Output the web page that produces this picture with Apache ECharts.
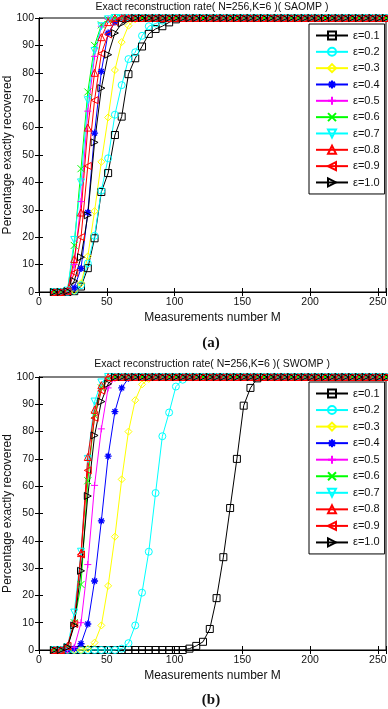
<!DOCTYPE html>
<html>
<head>
<meta charset="utf-8">
<script src="https://cdn.jsdelivr.net/npm/echarts@6/dist/echarts.min.js"></script>
<style>
html,body{margin:0;padding:0;background:#fff;}
#c{width:388px;height:709px;}
</style>
</head>
<body>
<div id="c"></div>
<script>
// ---- data ----
const M = [11,16,21,26,31,36,41,46,51,56,61,66,71,76,81,86,91,96,101,106,111,116,121,126,131,136,141,146,151,156,161,166,171,176,181,186,191,196,201,206,211,216,221,226,231,236,241,246,251,256];
const names = ['ε=0.1','ε=0.2','ε=0.3','ε=0.4','ε=0.5','ε=0.6','ε=0.7','ε=0.8','ε=0.9','ε=1.0'];
const xTicks = [0,50,100,150,200,250];
const yTicks = [0,10,20,30,40,50,60,70,80,90,100];
const titleA = 'Exact reconstruction rate( N=256,K=6 )( SAOMP )';
const titleB = 'Exact reconstruction rate( N=256,K=6 )( SWOMP )';
const xName = 'Measurements number M';
const yName = 'Percentage exactly recovered';

// (a) SAOMP
const a01 = [0,0,0,0.3,2,8.7,19.6,36.5,43.4,57.3,64,79.5,85.3,89.6,94.2,96,97,98.4,99.5,100,100,100,100,100,100,100,100,100,100,100,100,100,100,100,100,100,100,100,100,100,100,100,100,100,100,100,100,100,100,100];
const a02 = [0,0,0,0.5,2.5,10.5,20.5,37,48.8,64.7,75.5,85,87.5,93.5,97,98,99,100,100,100,100,100,100,100,100,100,100,100,100,100,100,100,100,100,100,100,100,100,100,100,100,100,100,100,100,100,100,100,100,100];
const a03 = [0,0,0,0.5,3.2,13,29.5,47.5,63.7,81,91.2,97.2,99.5,100,100,100,100,100,100,100,100,100,100,100,100,100,100,100,100,100,100,100,100,100,100,100,100,100,100,100,100,100,100,100,100,100,100,100,100,100];
const a04 = [0,0,0,1.5,8.6,29,58,80.5,94.5,98.5,100,100,100,100,100,100,100,100,100,100,100,100,100,100,100,100,100,100,100,100,100,100,100,100,100,100,100,100,100,100,100,100,100,100,100,100,100,100,100,100];
const a05 = [0,0,0.3,10,33,66,86,97,99.5,100,100,100,100,100,100,100,100,100,100,100,100,100,100,100,100,100,100,100,100,100,100,100,100,100,100,100,100,100,100,100,100,100,100,100,100,100,100,100,100,100];
const a06 = [0,0,0.5,17,45,73,90,97.5,99.5,100,100,100,100,100,100,100,100,100,100,100,100,100,100,100,100,100,100,100,100,100,100,100,100,100,100,100,100,100,100,100,100,100,100,100,100,100,100,100,100,100];
const a07 = [0,0,0.5,19,40,70,88,97,99.5,100,100,100,100,100,100,100,100,100,100,100,100,100,100,100,100,100,100,100,100,100,100,100,100,100,100,100,100,100,100,100,100,100,100,100,100,100,100,100,100,100];
const a08 = [0,0,0.5,12,29,60,80,93,98.5,100,100,100,100,100,100,100,100,100,100,100,100,100,100,100,100,100,100,100,100,100,100,100,100,100,100,100,100,100,100,100,100,100,100,100,100,100,100,100,100,100];
const a09 = [0,0,0.3,7,20,46,70,87,94,98.5,100,100,100,100,100,100,100,100,100,100,100,100,100,100,100,100,100,100,100,100,100,100,100,100,100,100,100,100,100,100,100,100,100,100,100,100,100,100,100,100];
const a10 = [0,0,0.3,4,12.7,28,54.6,74.4,86.6,94.5,98,99.5,100,100,100,100,100,100,100,100,100,100,100,100,100,100,100,100,100,100,100,100,100,100,100,100,100,100,100,100,100,100,100,100,100,100,100,100,100,100];

// (b) SWOMP
const b01 = [0,0,0,0,0,0,0,0,0,0,0,0,0,0,0,0,0,0,0,0,0.5,1.5,3,7.7,19,34,52,70,89.5,96,99.5,100,100,100,100,100,100,100,100,100,100,100,100,100,100,100,100,100,100,100];
const b02 = [0,0,0,0,0,0,0,0,0,0,0.5,2.5,9,21,36,57.5,78.3,87,96.5,99,100,100,100,100,100,100,100,100,100,100,100,100,100,100,100,100,100,100,100,100,100,100,100,100,100,100,100,100,100,100];
const b03 = [0,0,0,0,0,0.5,2.7,9,23.5,41.5,62.5,80,91.5,97.3,99.3,100,100,100,100,100,100,100,100,100,100,100,100,100,100,100,100,100,100,100,100,100,100,100,100,100,100,100,100,100,100,100,100,100,100,100];
const b04 = [0,0,0,0.5,2.3,9.5,25.3,47.3,71,87.3,96,99.5,100,100,100,100,100,100,100,100,100,100,100,100,100,100,100,100,100,100,100,100,100,100,100,100,100,100,100,100,100,100,100,100,100,100,100,100,100,100];
const b05 = [0,0,0,1,10,31.3,60.3,81,96,99.5,100,100,100,100,100,100,100,100,100,100,100,100,100,100,100,100,100,100,100,100,100,100,100,100,100,100,100,100,100,100,100,100,100,100,100,100,100,100,100,100];
const b06 = [0,0,1,10,24,62,86,96,99.5,100,100,100,100,100,100,100,100,100,100,100,100,100,100,100,100,100,100,100,100,100,100,100,100,100,100,100,100,100,100,100,100,100,100,100,100,100,100,100,100,100];
const b07 = [0,0,1,13.7,36,70,91,98,100,100,100,100,100,100,100,100,100,100,100,100,100,100,100,100,100,100,100,100,100,100,100,100,100,100,100,100,100,100,100,100,100,100,100,100,100,100,100,100,100,100];
const b08 = [0,0,1.5,10,35.5,70.7,88,97,100,100,100,100,100,100,100,100,100,100,100,100,100,100,100,100,100,100,100,100,100,100,100,100,100,100,100,100,100,100,100,100,100,100,100,100,100,100,100,100,100,100];
const b09 = [0,0,1.5,9.5,35,65.8,85,95,99.5,100,100,100,100,100,100,100,100,100,100,100,100,100,100,100,100,100,100,100,100,100,100,100,100,100,100,100,100,100,100,100,100,100,100,100,100,100,100,100,100,100];
const b10 = [0,0,1,9,29,56.4,78.6,91,97.5,100,100,100,100,100,100,100,100,100,100,100,100,100,100,100,100,100,100,100,100,100,100,100,100,100,100,100,100,100,100,100,100,100,100,100,100,100,100,100,100,100];

const setA = [a01,a02,a03,a04,a05,a06,a07,a08,a09,a10];
const setB = [b01,b02,b03,b04,b05,b06,b07,b08,b09,b10];

// ---- styles ----
const colors = ['#000000','#00ffff','#ffff00','#0000ff','#ff00ff','#00ff00','#00ffff','#ff0000','#ff0000','#000000'];
const ASTER = 'path://M5,0L5,10M0,5L10,5M1.5,1.5L8.5,8.5M8.5,1.5L1.5,8.5';
const PLUS = 'path://M5,0L5,10M0,5L10,5';
const CROSS = 'path://M0,0L10,10M10,0L0,10';
const symbols = ['rect','circle','diamond',ASTER,PLUS,CROSS,'triangle','triangle','triangle','triangle'];
const rotates = [0,0,0,0,0,0,180,0,90,-90];
const FONT = 'Liberation Sans, Arial, sans-serif';

function mkSeries(vals, i, ax) {
  return {
    type: 'line', name: names[i], xAxisIndex: ax, yAxisIndex: ax,
    data: M.map((m, k) => [m, vals[k]]),
    symbol: symbols[i], symbolSize: 7, symbolRotate: rotates[i],
    showSymbol: true, showAllSymbol: true, clip: false,
    lineStyle: { color: colors[i], width: 1 },
    itemStyle: { color: 'rgba(0,0,0,0)', borderColor: colors[i], borderWidth: (i===3?1.4:1) },
    emphasis: { disabled: true }, animation: false, z: 2
  };
}

const grids = [
  { left: 39, top: 18, width: 347, height: 274, show: true, borderColor: '#000', borderWidth: 1, backgroundColor: '#fff', containLabel: false, outerBoundsMode: 'none' },
  { left: 39, top: 377, width: 347, height: 273, show: true, borderColor: '#000', borderWidth: 1, backgroundColor: '#fff', containLabel: false, outerBoundsMode: 'none' }
];

function xAx(g, pos, lab) {
  return {
    type: 'value', gridIndex: g, position: pos, min: 0, max: 256, interval: 50,
    name: lab ? xName : '', nameLocation: 'middle', nameGap: 20, nameMoveOverlap: false,
    nameTextStyle: { fontFamily: FONT, fontSize: 12, color: '#111' },
    axisLine: { show: true, lineStyle: { color: '#000', width: 1 } },
    axisTick: { show: true, inside: true, length: 4, lineStyle: { color: '#000' } },
    axisLabel: { show: lab, margin: 5, fontFamily: FONT, fontSize: 10.5, color: '#111',
      formatter: v => (xTicks.indexOf(v) >= 0 ? String(v) : '') },
    splitLine: { show: false }
  };
}
function yAx(g, pos, lab) {
  return {
    type: 'value', gridIndex: g, position: pos, min: 0, max: 100, interval: 10,
    name: lab ? yName : '', nameLocation: 'middle', nameGap: 25, nameMoveOverlap: false,
    nameTextStyle: { fontFamily: FONT, fontSize: 12, color: '#111' },
    axisLine: { show: true, lineStyle: { color: '#000', width: 1 } },
    axisTick: { show: true, inside: true, length: 4, lineStyle: { color: '#000' } },
    axisLabel: { show: lab, margin: 5, fontFamily: FONT, fontSize: 10.5, color: '#111',
      formatter: v => (yTicks.indexOf(v) >= 0 ? String(v) : '') },
    splitLine: { show: false }
  };
}

function mkLegend(top, gap) {
  return {
    data: names, orient: 'vertical', left: 309, top: top,
    padding: [6, 5, 6, 6], itemWidth: 32, itemHeight: 10, itemGap: gap,
    borderColor: '#000', borderWidth: 1, backgroundColor: '#fff', borderRadius: 0,
    selectedMode: false,
    textStyle: { fontFamily: FONT, fontSize: 11, color: '#111' }
  };
}

const series = [];
setA.forEach((v, i) => series.push(mkSeries(v, i, 0)));
setB.forEach((v, i) => series.push(mkSeries(v, i, 1)));

const option = {
  backgroundColor: '#fff',
  animation: false,
  grid: grids,
  xAxis: [xAx(0, 'bottom', true), xAx(1, 'bottom', true), xAx(0, 'top', false), xAx(1, 'top', false)],
  yAxis: [yAx(0, 'left', true), yAx(1, 'left', true), yAx(0, 'right', false), yAx(1, 'right', false)],
  legend: [mkLegend(24, 5.33), mkLegend(382, 5.55)],
  series: series,
  graphic: [
    { type: 'text', x: 212, y: 7, style: { text: titleA, fontFamily: FONT, fontSize: 10.5, fill: '#111', textAlign: 'center', textVerticalAlign: 'middle' } },
    { type: 'text', x: 212, y: 364, style: { text: titleB, fontFamily: FONT, fontSize: 10.5, fill: '#111', textAlign: 'center', textVerticalAlign: 'middle' } },
    { type: 'text', x: 211, y: 343, style: { text: '(a)', fontFamily: 'Liberation Serif, Times New Roman, serif', fontWeight: 'bold', fontSize: 15, fill: '#111', textAlign: 'center', textVerticalAlign: 'middle' } },
    { type: 'text', x: 211, y: 700, style: { text: '(b)', fontFamily: 'Liberation Serif, Times New Roman, serif', fontWeight: 'bold', fontSize: 15, fill: '#111', textAlign: 'center', textVerticalAlign: 'middle' } }
  ]
};

const chart = echarts.init(document.getElementById('c'), null, { renderer: 'canvas' });
chart.setOption(option);
</script>
</body>
</html>
